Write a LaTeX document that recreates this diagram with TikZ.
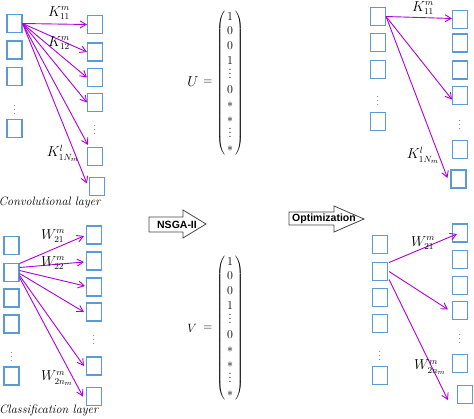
\documentclass[tikz,border=0pt]{standalone}
\usepackage{fontspec}
\newfontfamily\arrowfont{Liberation Sans}
\usetikzlibrary{arrows.meta,calc}
\definecolor{cellblue}{RGB}{91,155,213}
\definecolor{linkpurple}{RGB}{172,0,222}
\definecolor{framegray}{RGB}{70,70,70}
\begin{document}
\begin{tikzpicture}[x=1pt,y=-1pt,
  cell/.style={draw=cellblue, line width=1.1pt, minimum width=15pt, minimum height=18pt, inner sep=0pt},
  link/.style={draw=linkpurple, line width=0.9pt, -{Straight Barb[length=6pt,width=7pt]}},
  vd/.style={inner sep=0pt, font=\fontsize{9}{10}\selectfont},
  wlabel/.style={inner sep=0pt, font=\fontsize{13.5}{15}\selectfont},
  layerlabel/.style={inner sep=0pt, anchor=west, font=\fontsize{12.2}{14}\selectfont\itshape},
  bigarrow/.style={draw=framegray, line width=0.8pt, fill=white},
  arrowtext/.style={inner sep=0pt, font=\arrowfont\bfseries\fontsize{10.5}{12}\selectfont},
  mat/.style={inner sep=0pt, font=\fontsize{12.5}{14.6}\selectfont}]
\useasboundingbox (0,0) rectangle (474,418);

% ---------- top-left: convolutional layer ----------
\node[cell] (a1) at (14.5,23.5) {};
\node[cell] (a2) at (14.5,50) {};
\node[cell] (a3) at (14.5,76.5) {};
\node[vd] (ad) at (14.5,107) {$\vdots$};
\node[cell] (a4) at (14.5,128.5) {};
\node[cell] (b1) at (95,24.5) {};
\node[cell] (b2) at (95,52) {};
\node[cell] (b3) at (95,77.5) {};
\node[cell] (b4) at (95,102.5) {};
\node[vd] (bd) at (95,127) {$\vdots$};
\node[cell] (b5) at (95,156.5) {};
\node[cell] (b6) at (97,186.5) {};
\draw[link] (a1.east) -- (b1.west);
\draw[link] (a1.east) -- (b2.west);
\draw[link] (a1.east) -- (b3.west);
\draw[link] (a1.east) -- (b4.west);
\draw[link] (a1.east) -- ($(b5.north west)+(1,-2)$);
\draw[link] (a1.east) -- ($(b6.west)+(-2,-3)$);
\node[wlabel] (k1) at (59,13) {$K^{m}_{11}$};
\node[wlabel] (k2) at (59,43) {$K^{m}_{12}$};
\node[wlabel] (k3) at (63,153) {$K^{l}_{1N_m}$};
\node[layerlabel] (conv) at (-1.5,202) {Convolutional layer};

% ---------- bottom-left: classification layer ----------
\node[cell] (c1) at (11.5,245.5) {};
\node[cell] (c2) at (11.5,272.5) {};
\node[cell] (c3) at (11.5,298) {};
\node[cell] (c4) at (11.5,324) {};
\node[vd] (cd) at (11.5,354) {$\vdots$};
\node[cell] (c5) at (11.5,376) {};
\node[cell] (d1) at (94,235) {};
\node[cell] (d2) at (94,261) {};
\node[cell] (d3) at (94,287) {};
\node[cell] (d4) at (94,312) {};
\node[vd] (dd) at (94,337) {$\vdots$};
\node[cell] (d5) at (94,366) {};
\node[cell] (d6) at (94,396.5) {};
\draw[link] ($(c2.east)+(0,-9)$) -- ($(d1.west)+(-2,1)$);
\draw[link] ($(c2.east)+(0,-5)$) -- ($(d2.west)+(-2,1)$);
\draw[link] ($(c2.east)+(0,-2)$) -- ($(d3.west)+(-1,-1)$);
\draw[link] ($(c2.east)+(0,1)$) -- ($(d4.west)+(-2,0)$);
\draw[link] ($(c2.east)+(0,3)$) -- ($(d5.west)+(-2,0)$);
\draw[link] ($(c2.east)+(0,5)$) -- ($(d6.west)+(-3,0)$);
\node[wlabel] (w1) at (53,236) {$W^{m}_{21}$};
\node[wlabel] (w2) at (53,263) {$W^{m}_{22}$};
\node[wlabel] (w3) at (57,378) {$W^{m}_{2n_m}$};
\node[layerlabel] (clas) at (-1,410) {Classification layer};

% ---------- middle: vectors ----------
\node[inner sep=0pt, font=\fontsize{15}{17}\selectfont] (ulab) at (193,82) {$U$};
\node[inner sep=0pt, font=\fontsize{12}{14}\selectfont] (ueq) at (208,82.5) {$=$};
\node[mat] (umat) at (230,83) {$\left(\,\begin{array}{@{}c@{}}1\\0\\0\\1\\\smash{\vdots}\\0\\\ast\\\ast\\\smash{\vdots}\\\ast\end{array}\,\right)$};
\node[inner sep=0pt, font=\fontsize{13}{15}\selectfont] (vlab) at (192,328) {$V$};
\node[inner sep=0pt, font=\fontsize{12}{14}\selectfont] (veq) at (208,328.5) {$=$};
\node[mat] (vmat) at (230,328) {$\left(\,\begin{array}{@{}c@{}}1\\0\\0\\1\\\smash{\vdots}\\0\\\ast\\\ast\\\smash{\vdots}\\\ast\end{array}\,\right)$};

% ---------- block arrows ----------
\draw[bigarrow] (149,217) -- (183,217) -- (183,210) -- (206,224) -- (183,238) -- (183,232) -- (149,232) -- cycle;
\node[arrowtext] (nsga) at (177,225) {NSGA-II};
\draw[bigarrow] (289,212) -- (334,212) -- (334,206) -- (364,219) -- (334,232) -- (334,225) -- (289,225) -- cycle;
\node[arrowtext] (optim) at (324,218.5) {Optimization};

% ---------- top-right ----------
\node[cell] (e1) at (378,16.5) {};
\node[cell] (e2) at (378,42.5) {};
\node[cell] (e3) at (378,69.5) {};
\node[vd] (ed) at (378,98) {$\vdots$};
\node[cell] (e4) at (378,121.5) {};
\node[cell] (f1) at (460,19.5) {};
\node[cell] (f2) at (460,43) {};
\node[cell] (f3) at (460,70) {};
\node[cell] (f4) at (460,95.5) {};
\node[vd] (fd) at (460,122) {$\vdots$};
\node[cell] (f5) at (460,149.5) {};
\node[cell] (f6) at (458.5,179) {};
\draw[link] (e1.east) -- ($(f1.west)+(0,-1)$);
\draw[link] (e1.east) -- ($(f4.west)+(0,4)$);
\draw[link] (e1.east) -- ($(f6.west)+(-3,-1)$);
\node[wlabel] (k4) at (423,8) {$K^{m}_{11}$};
\node[wlabel] (k5) at (423,155) {$K^{l}_{1N_m}$};

% ---------- bottom-right ----------
\node[cell] (g1) at (380,244.5) {};
\node[cell] (g2) at (380,271.5) {};
\node[cell] (g3) at (380,297.5) {};
\node[cell] (g4) at (380,323.5) {};
\node[vd] (gd) at (380,353) {$\vdots$};
\node[cell] (g5) at (380,375.5) {};
\node[cell] (h1) at (460,233) {};
\node[cell] (h2) at (460,259.5) {};
\node[cell] (h3) at (460,285.5) {};
\node[cell] (h4) at (460,310.5) {};
\node[vd] (hd) at (460,336) {$\vdots$};
\node[cell] (h5) at (460,363.5) {};
\node[cell] (h6) at (465,394.5) {};
\draw[link] ($(g2.east)+(1,-9)$) -- ($(h1.west)+(5,1)$);
\draw[link] ($(g2.east)+(1,0)$) -- ($(h4.west)+(-4,-1)$);
\draw[link] ($(g2.east)+(1,8)$) -- ($(h6.south west)+(-9,-4)$);
\node[wlabel] (w4) at (423,243) {$W^{m}_{21}$};
\node[wlabel] (w5) at (430,367) {$W^{m}_{2n_m}$};
\end{tikzpicture}
\end{document}
